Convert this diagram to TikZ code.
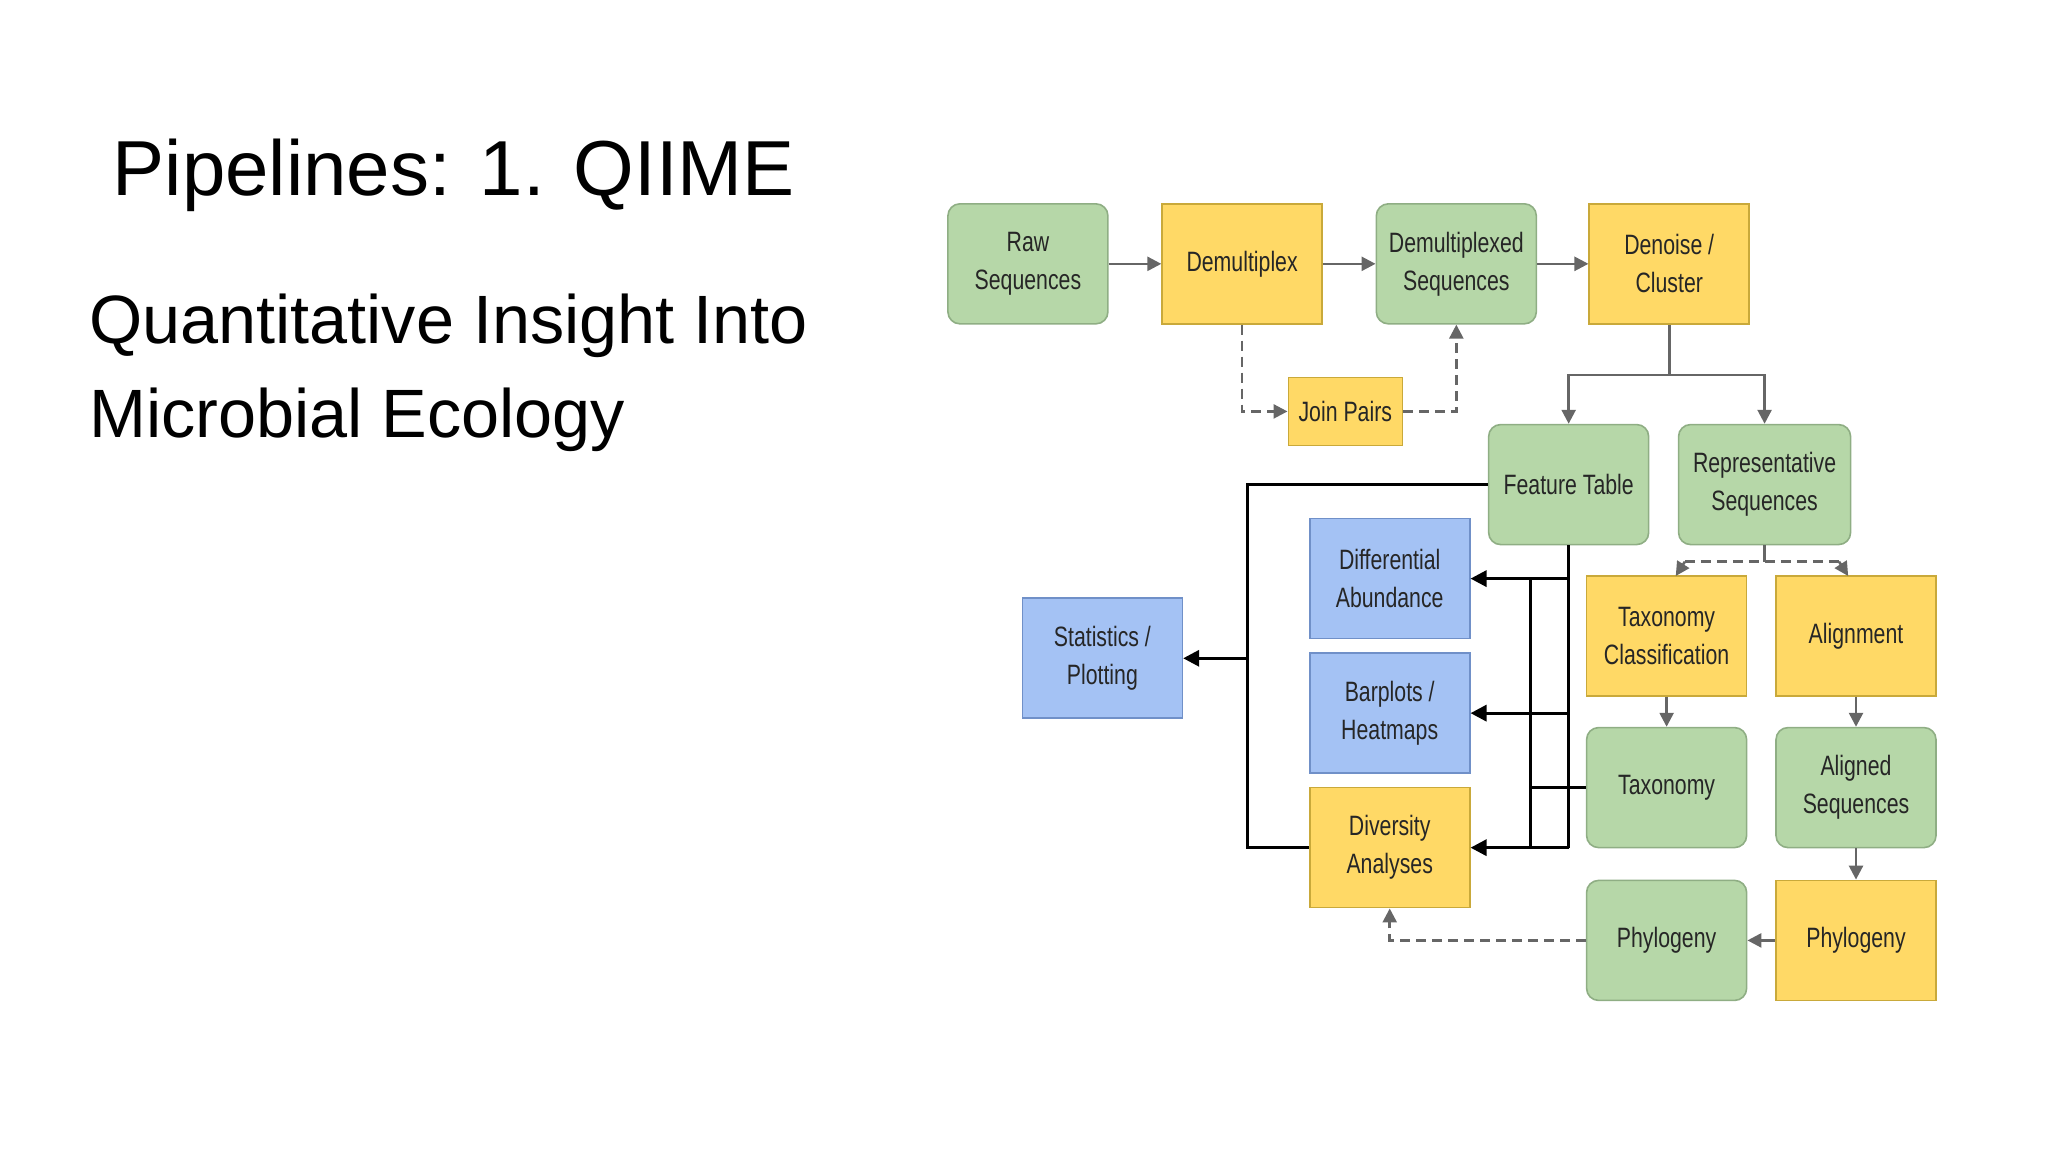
\documentclass[tikz,border=0pt]{standalone}
\usepackage{fontspec}
\setmainfont{Liberation Sans}
\usetikzlibrary{arrows.meta}
\definecolor{gF}{HTML}{B6D7A8}\definecolor{gD}{HTML}{8FAE84}
\definecolor{yF}{HTML}{FFD966}\definecolor{yD}{HTML}{C9A93A}
\definecolor{bF}{HTML}{A4C2F4}\definecolor{bD}{HTML}{7090C8}
\definecolor{ar}{HTML}{666666}
\begin{document}
\begin{tikzpicture}[x=0.653pt,y=-0.653pt,
 box/.style={minimum width=80pt,minimum height=60pt,align=center,font=\fontsize{14}{19}\selectfont\addfontfeature{FakeStretch=0.76},text=black!85,line width=0.8pt,inner sep=1pt},
 G/.style={box,fill=gF,draw=gD,rounded corners=6pt},
 Y/.style={box,fill=yF,draw=yD},
 B/.style={box,fill=bF,draw=bD},
 ga/.style={draw=ar,line width=1.3pt,-{Triangle[length=7pt,width=7pt]}},
 gl/.style={draw=ar,line width=1.3pt},
 gd/.style={draw=ar,line width=1.3pt,dash pattern=on 5pt off 3pt},
 ka/.style={draw=black,line width=1.6pt,-{Triangle[length=8pt,width=8pt]}},
 kl/.style={draw=black,line width=1.6pt}]
\useasboundingbox (0,0) rectangle (1568,882);
\node[anchor=base west,inner sep=0pt,font=\fontsize{39}{46}\selectfont] (title) at (86,150) {Pipelines: 1. QIIME};
\node[anchor=base west,inner sep=0pt,font=\fontsize{34.2}{40}\selectfont] (s1) at (68,263) {Quantitative Insight Into};
\node[anchor=base west,inner sep=0pt,font=\fontsize{34.2}{40}\selectfont] (s2) at (68,335) {Microbial Ecology};

\node[G] (raw) at (787,202) {Raw\\Sequences};
\node[Y] (dem) at (951,202) {Demultiplex};
\node[G] (dms) at (1115,202) {Demultiplexed\\Sequences};
\node[Y] (den) at (1278,202) {Denoise /\\Cluster};
\node[Y,minimum width=57pt,minimum height=34pt] (jp) at (1030,315) {Join Pairs};
\node[G] (ft) at (1201,371) {Feature Table};
\node[G,minimum width=86pt] (rs) at (1351,371) {Representative\\Sequences};
\node[B] (da) at (1064,443) {Differential\\Abundance};
\node[B] (bp) at (1064,546) {Barplots /\\Heatmaps};
\node[Y] (dv) at (1064,649) {Diversity\\Analyses};
\node[B] (st) at (844,504) {Statistics /\\Plotting};
\node[Y] (tc) at (1276,487) {Taxonomy\\Classification};
\node[Y] (al) at (1421,487) {Alignment};
\node[G] (tx) at (1276,603) {Taxonomy};
\node[G] (as) at (1421,603) {Aligned\\Sequences};
\node[G] (pg) at (1276,720) {Phylogeny};
\node[Y] (py) at (1421,720) {Phylogeny};

\draw[ga] (raw) -- (dem);
\draw[ga] (dem) -- (dms);
\draw[ga] (dms) -- (den);
\draw[gd,-{Triangle[length=7pt,width=7pt]}] (dem.south) |- (jp.west);
\draw[gd,-{Triangle[length=7pt,width=7pt]}] (jp.east) -| (dms.south);
\coordinate (j1) at (1278,287);
\draw[gl] (den.south) -- (j1);
\draw[ga] (j1) -| (ft.north);
\draw[ga] (j1) -| (rs.north);

\coordinate (L) at (955,371);
\draw[kl] (ft.west) -- (L) |- (dv.west);
\draw[ka] (955,504) -- (st.east);
\draw[kl] (ft.south) -- (1201,649);
\draw[ka] (1201,443) -- (da.east);
\draw[ka] (1201,546) -- (bp.east);
\draw[ka] (1201,649) -- (dv.east);
\draw[kl] (1172,443) -- (1172,649);
\draw[kl] (tx.west) -- (1172,603);

\coordinate (r1) at (1351,430);
\draw[gl] (rs.south) -- (r1);
\draw[gd] (1290,430) -- (1408,430);
\draw[gd,-{Triangle[length=7pt,width=7pt]}] (1290,430) -- (1283,441);
\draw[gd,-{Triangle[length=7pt,width=7pt]}] (1408,430) -- (1415,441);
\draw[ga] (tc) -- (tx);
\draw[ga] (al) -- (as);
\draw[ga] (as) -- (py);
\draw[ga] (py) -- (pg);
\draw[gd,-{Triangle[length=7pt,width=7pt]}] (pg.west) -| (dv.south);
\end{tikzpicture}
\end{document}
